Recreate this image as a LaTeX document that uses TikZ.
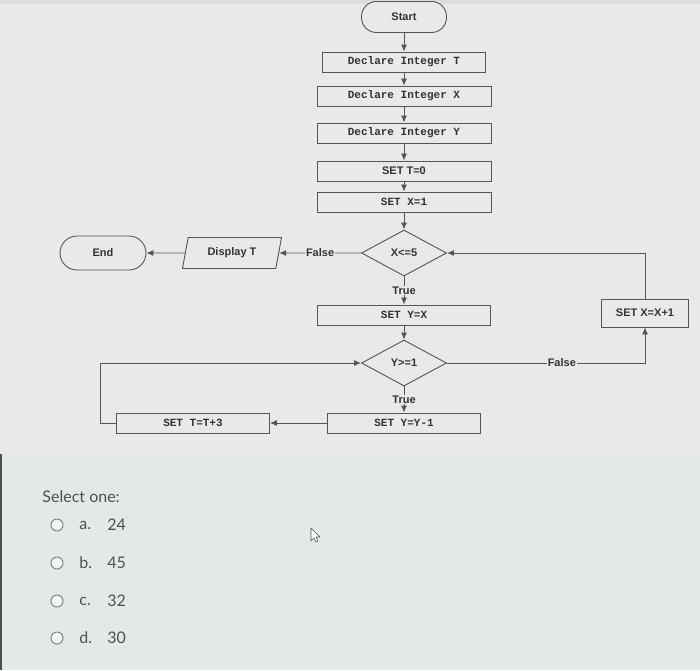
\documentclass[tikz,border=0pt]{standalone}
\usepackage{fontspec}
\setmainfont{Liberation Sans}
\newfontfamily\codefont{Liberation Mono}
\newfontfamily\quizfont{Lato}
\usepackage{tikz}
\usetikzlibrary{shapes.geometric}
\usetikzlibrary{backgrounds}
\usetikzlibrary{positioning}
\usetikzlibrary{arrows.meta}
\definecolor{panel}{HTML}{E9E9E9}
\definecolor{topstrip}{HTML}{DCDCDC}
\definecolor{lowpage}{HTML}{E2E9E8}
\definecolor{linegray}{HTML}{555555}
\definecolor{inkgray}{HTML}{333333}
\definecolor{quizgray}{HTML}{505050}
\newcommand{\flowtext}{\fontsize{11}{13}\selectfont\bfseries}
\tikzset{every picture/.style={line width=0.9pt},
  terminal/.style={draw=linegray, fill=panel, rounded corners=15pt, minimum height=31pt, inner sep=0pt, text=inkgray, font=\flowtext},
  procbox/.style={draw=linegray, fill=panel, rectangle, minimum height=20pt, inner sep=0pt, text=inkgray, font=\flowtext},
  decision/.style={draw=linegray, fill=panel, diamond, minimum width=85pt, minimum height=46pt, inner sep=0pt, text=inkgray, font=\flowtext},
  iobox/.style={draw=linegray, fill=panel, trapezium, trapezium left angle=61, trapezium right angle=119, trapezium stretches body, minimum width=99pt, minimum height=31pt, inner sep=0pt, text=inkgray, font=\flowtext},
  arr/.style={draw=linegray, -{Latex[length=7pt,width=6pt]}},
  branch/.style={fill=panel, inner sep=1pt, text=inkgray, font=\flowtext},
  radio/.style={circle, draw=quizgray!70, fill=white!60!lowpage, line width=1pt, minimum size=12pt, inner sep=0pt},
  quiz/.style={text=quizgray, font=\quizfont\fontsize{16}{19}\selectfont, inner sep=0pt, anchor=west}}
\begin{document}
\begin{tikzpicture}[x=1pt,y=-1pt]
\useasboundingbox (0,0) rectangle (700,670);
% page behind the chart
\fill[lowpage] (0,0) rectangle (700,670);
\fill[panel] (0,0) rectangle (700,454);
\fill[topstrip] (0,0) rectangle (700,4);
\fill[black!70] (0,454) rectangle (2,670);

% main column
\node[terminal, minimum width=85pt] (start) at (404,17) {Start};
\node[procbox, minimum width=163pt] (decT) at (404,62) {\codefont\bfseries Declare Integer T};
\node[procbox, minimum width=174pt] (decX) at (404,96) {\codefont\bfseries Declare Integer X};
\node[procbox, minimum width=174pt] (decY) at (404,133) {\codefont\bfseries Declare Integer Y};
\node[procbox, minimum width=174pt] (setT) at (404,171) {SET T=0};
\node[procbox, minimum width=174pt] (setX) at (404,202) {\codefont\bfseries SET X=1};
\node[decision] (xle) at (404,253) {X<=5};
\node[procbox, minimum width=173pt] (setYX) at (404,315) {\codefont\bfseries SET Y=X};
\node[decision] (yge) at (404,363) {Y>=1};
\node[procbox, minimum width=153pt] (decr) at (404,423) {\codefont\bfseries SET Y=Y-1};

% side nodes
\node[iobox] (disp) at (232,253) {Display T};
\node[terminal, minimum width=86pt, minimum height=34pt, rounded corners=17pt] (stop) at (103,253) {End};
\node[procbox, minimum width=153pt] (addT) at (193,423) {\codefont\bfseries SET T=T+3};
\node[procbox, minimum width=87pt, minimum height=28pt] (incX) at (645,313) {SET X=X+1};
\coordinate (loopL) at (100,423);

% connectors
\draw[arr] (start) -- (decT);
\draw[arr] (decT) -- (decX);
\draw[arr] (decX) -- (decY);
\draw[arr] (decY) -- (setT);
\draw[arr] (setT) -- (setX);
\draw[arr] (setX) -- (xle.north);
\draw[arr] (xle.south) -- (setYX.north) node [midway, branch] {True};
\draw[arr] (xle.west) -- (disp.east) node [midway, branch] {False};
\draw[arr] (disp) -- (stop.east);
\draw[arr] (setYX) -- (yge.north);
\draw[arr] (yge.south) -- (decr.north) node [midway, branch] {True};
\draw[arr] (yge.east) -| (incX.south) node [pos=0.29, branch] {False};
\draw[arr] (incX.north) |- (xle.east);
\draw[arr] (decr) -- (addT);
\draw[arr] (addT.west) -- (loopL) |- (yge.west);

% question below the chart
\node[quiz] (ask) at (42,497) {Select one:};
\node[radio] (ra) at (57,525) {};
\node[quiz] (la) at (79,525) {a.};
\node[quiz] (va) at (107,525) {24};
\node[radio] (rb) at (57,563) {};
\node[quiz] (lb) at (79,563) {b.};
\node[quiz] (vb) at (107,563) {45};
\node[radio] (rc) at (57,601) {};
\node[quiz] (lc) at (79,601) {c.};
\node[quiz] (vc) at (107,601) {32};
\node[radio] (rd) at (57,638) {};
\node[quiz] (ld) at (79,638) {d.};
\node[quiz] (vd) at (107,638) {30};

% mouse pointer
\draw[quizgray, line width=0.6pt, fill=white, line join=round] (311,528) -- (311,541) -- (314,538) -- (316,542) -- (318,541) -- (316,537) -- (320,537) -- cycle;
\end{tikzpicture}
\end{document}
